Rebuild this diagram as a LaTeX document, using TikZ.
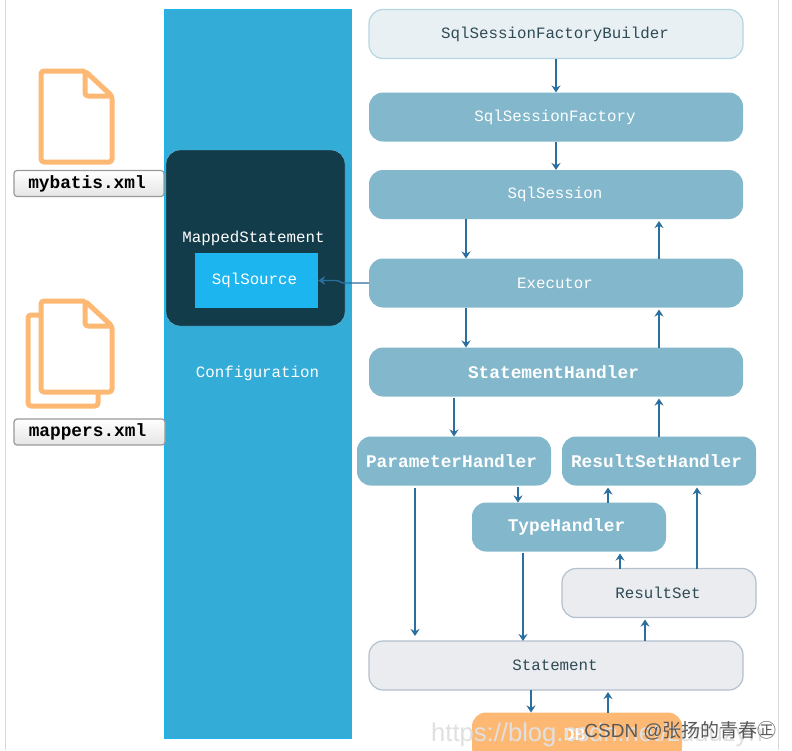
\documentclass[tikz,border=0pt]{standalone}
\usepackage{fontspec}
\usepackage{tikz}
\usetikzlibrary{arrows.meta,shadings}
\setmonofont{Liberation Mono}
\setsansfont{Liberation Sans}
\newfontfamily\cjk{Noto Sans CJK SC}
\definecolor{boxblue}{HTML}{82B7CC}
\definecolor{buildfill}{HTML}{E8F0F4}
\definecolor{buildline}{HTML}{B5D6E3}
\definecolor{greyfill}{HTML}{EAECF0}
\definecolor{greyline}{HTML}{B4C0CE}
\definecolor{confblue}{HTML}{33ACD8}
\definecolor{confline}{HTML}{1CB5EE}
\definecolor{mapdark}{HTML}{123C4A}
\definecolor{srcblue}{HTML}{1DB5EF}
\definecolor{docorange}{HTML}{FDB974}
\definecolor{arrowblue}{HTML}{2A6F9E}
\definecolor{darktext}{HTML}{2F4A55}

\begin{document}
\begin{tikzpicture}[x=1pt, y=-1pt]
\tikzset{flowbox/.style={rounded corners=14pt,minimum width=374pt,minimum height=49pt,inner sep=0,outer sep=0,font=\fontsize{15.8}{16}\ttfamily,execute at begin node={\hspace{-2pt}}},
bluebox/.style={flowbox,fill=boxblue,text=white},
boldbox/.style={bluebox,font=\fontsize{17.8}{18}\ttfamily\bfseries,execute at begin node={\hspace{-3pt}}},
greybox/.style={flowbox,fill=greyfill,draw=greyline,line width=1.2pt,text=darktext},
filelabel/.style={rounded corners=3pt,minimum height=26pt,inner sep=0,outer sep=0,draw=black!40,line width=1.2pt,top color=white,bottom color=black!10,font=\fontsize{17.8}{18}\ttfamily\bfseries,execute at begin node={\hspace{-4pt}}},
conflabel/.style={inner sep=0,text=white,font=\fontsize{15.8}{16}\ttfamily},
flowarrow/.style={draw=arrowblue,line width=1.4pt,-{Stealth[length=7pt,width=9pt]}},
docline/.style={draw=docorange,line width=5pt,line join=round,rounded corners=3pt}}

\clip (0,0) rectangle (792,750);
\fill[white] (0,0) rectangle (792,750);
\draw[black!15] (5,0) -- (5,750);
\draw[black!15] (778,0) -- (778,750);

%% Configuration column
\node (conf) [fill=confblue,draw=confline,inner sep=0,minimum width=187pt,minimum height=729pt] at (258,373.5) {};
\node (mapped) [fill=mapdark,draw=confblue!70,rounded corners=14pt,inner sep=0,minimum width=179pt,minimum height=176pt] at (255.5,238) {};
\node (source) [fill=srcblue,inner sep=0,minimum width=123pt,minimum height=55pt,conflabel] at (256.5,280.5) {\hspace{-4pt}SqlSource};
\node (mappedlab) [conflabel] at (253.5,238) {MappedStatement};
\node (conflab) [conflabel] at (257.5,373) {Configuration};

%% Files
\foreach \ty in {71,301} {
  \draw[docline] (85,\ty) -- (41,\ty) -- (41,\ty+91) -- (112,\ty+91) -- (112,\ty+25) -- (85,\ty) -- (85,\ty+25) -- (112,\ty+25);
}
\draw[docline] (41,315) -- (28,315) -- (28,406) -- (98,406) -- (98,392);
\node (mybatis) [filelabel,minimum width=150pt] at (89,183.5) {mybatis.xml};
\node (mappers) [filelabel,minimum width=151pt] at (89.5,432) {mappers.xml};

%% Flow
\node (builder) [flowbox,fill=buildfill,draw=buildline,line width=1.2pt,text=darktext] at (556,34) {SqlSessionFactoryBuilder};
\node (factory) [bluebox] at (556,117) {SqlSessionFactory};
\node (session) [bluebox] at (556,194.5) {SqlSession};
\node (executor) [bluebox] at (556,283) {Executor};
\node (stmthandler) [boldbox] at (556,372) {StatementHandler};
\node (paramhandler) [boldbox,minimum width=194pt] at (454,461) {ParameterHandler};
\node (resulthandler) [boldbox,minimum width=194pt] at (659,461) {ResultSetHandler};
\node (typehandler) [boldbox,minimum width=194pt] at (569,527) {TypeHandler};
\node (resultset) [greybox,minimum width=194pt] at (659,593) {ResultSet};
\node (statement) [greybox] at (556,665.5) {Statement};
\node (db) [boldbox,fill=docorange,minimum width=210pt] at (577,737) {\raisebox{4pt}{DB}};

%% Edges
\foreach \u/\v/\cx in {builder/factory/556, factory/session/556, session/executor/466, executor/stmthandler/466, statement/db/531} {
  \coordinate (cx) at (\cx,0);
  \draw[flowarrow] (\u.south -| cx) -- (\v.north -| cx);
}
\foreach \u/\v/\cx in {executor/session/659, stmthandler/executor/659, resulthandler/stmthandler/659, typehandler/resulthandler/608, resultset/typehandler/620, resultset/resulthandler/697, statement/resultset/645, db/statement/608} {
  \coordinate (cx) at (\cx,0);
  \draw[flowarrow,shorten >=2pt] (\u.north -| cx) -- (\v.south -| cx);
}
\foreach \u/\v/\cx in {stmthandler/paramhandler/454, paramhandler/typehandler/518, typehandler/statement/523} {
  \coordinate (cx) at (\cx,0);
  \draw[flowarrow,shorten <=1pt] (\u.south -| cx) -- (\v.north -| cx);
}
\coordinate (cx) at (415,0);
\draw[flowarrow,shorten <=2pt,shorten >=5pt] (paramhandler.south -| cx) -- (statement.north -| cx);
\draw[flowarrow] (executor.west) -- ++(-26,0) -- ++(-6,-2.5) -- (source.east);

%% Watermarks
\node (mark) [anchor=west,inner sep=0,text=black!12,font=\fontsize{25.6}{27}\sffamily] at (431,735) {https://blog.csdn.net/zuduzyh};
\node (csdn) [anchor=east,inner sep=0,text=black!65,font=\fontsize{19}{20}\sffamily] at (777,731) {CSDN @{\cjk 张扬的青春㊣}};

\end{tikzpicture}
\end{document}
